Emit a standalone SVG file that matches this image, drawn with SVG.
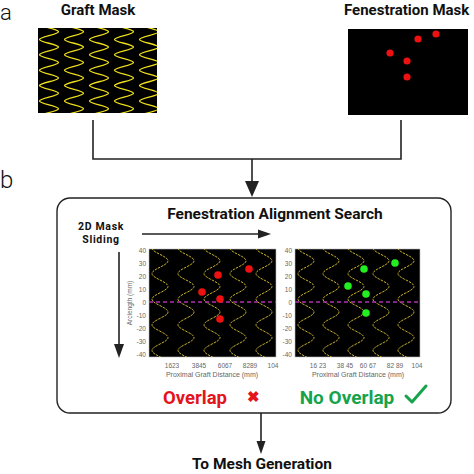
<svg xmlns="http://www.w3.org/2000/svg" width="474" height="474" viewBox="0 0 474 474">
<style>
.t{font-family:Roboto,"Liberation Sans",sans-serif;font-weight:bold;fill:#111}
.lbl{font-family:Roboto,"Open Sans",sans-serif;font-weight:300;fill:#111;font-size:24px}
.ax{font-family:"Liberation Sans",Arial,sans-serif;fill:#666;font-size:6.5px}
.axl{font-family:"Liberation Sans",Arial,sans-serif;fill:#666;font-size:7px}
.ln{stroke:#222;stroke-width:1.6;fill:none}
.gw{stroke:#f2e21a;stroke-width:1.3;fill:none}
.pw{stroke:#c9b22c;stroke-width:1;fill:none;stroke-dasharray:2.5,1}
</style>
<defs>
<path id="gcol" d="M-9.5,24 c0,2.8 19,4.9 19,7.7 s-19,4.9 -19,7.7 s19,4.9 19,7.7 s-19,4.9 -19,7.7 s19,4.9 19,7.7 s-19,4.9 -19,7.7 s19,4.9 19,7.7 s-19,4.9 -19,7.7 s19,4.9 19,7.7 s-19,4.9 -19,7.7 s19,4.9 19,7.7 s-19,4.9 -19,7.7"/>
<path id="pcol" d="M-8,248 c0,4.6 16,8.2 16,12.8 s-16,8.2 -16,12.8 s16,8.2 16,12.8 s-16,8.2 -16,12.8 s16,8.2 16,12.8 s-16,8.2 -16,12.8 s16,8.2 16,12.8 s-16,8.2 -16,12.8 s16,8.2 16,12.8"/>
<clipPath id="cg"><rect x="38" y="28" width="119" height="85"/></clipPath>
<clipPath id="cp1"><rect x="149" y="249" width="127" height="108"/></clipPath>
<clipPath id="cp2"><rect x="295" y="249" width="125" height="108"/></clipPath>
</defs>

<text class="lbl" x="0" y="20" font-size="22" style="font-size:22px">a</text>
<text class="lbl" x="0" y="188">b</text>

<g id="graft-mask">
<text class="t" x="98" y="15" font-size="15" text-anchor="middle">Graft Mask</text>
<rect x="38" y="28" width="119" height="85" fill="#000"/>
<g clip-path="url(#cg)">
<use href="#gcol" class="gw" transform="translate(49,0)"/>
<use href="#gcol" class="gw" transform="translate(74,0)"/>
<use href="#gcol" class="gw" transform="translate(99,0)"/>
<use href="#gcol" class="gw" transform="translate(124,0)"/>
<use href="#gcol" class="gw" transform="translate(149,0)"/>
</g>
</g>

<g id="fenestration-mask">
<text class="t" x="344" y="15" font-size="15">Fenestration Mask</text>
<rect x="348" y="29" width="120" height="86" fill="#000"/>
<g fill="#ee1111">
<circle cx="390" cy="53" r="3.6"/>
<circle cx="407" cy="61" r="3.6"/>
<circle cx="407" cy="77" r="3.6"/>
<circle cx="418" cy="39" r="3.6"/>
<circle cx="436" cy="34" r="3.6"/>
</g>
</g>

<g id="connectors">
<path class="ln" d="M93,120 V159 H401 V120"/>
<path class="ln" d="M252,159 V184"/>
<path d="M245,181 L259,181 L252,197 z" fill="#222"/>
<path class="ln" d="M261,413 V443"/>
<path d="M256.5,441 L265.5,441 L261,454 z" fill="#222"/>
</g>

<g id="alignment-search">
<rect x="57" y="198" width="394" height="215" rx="13" fill="#fff" stroke="#222" stroke-width="1.4"/>
<text class="t" x="275" y="219" font-size="15.5" text-anchor="middle">Fenestration Alignment Search</text>
<text class="t" x="101" y="230" font-size="10.5" letter-spacing="0.7" text-anchor="middle">2D Mask</text>
<text class="t" x="101" y="243" font-size="10.5" letter-spacing="0.7" text-anchor="middle">Sliding</text>
<path class="ln" d="M142,234 H260"/>
<path d="M258,229.5 L271,234 L258,238.5 z" fill="#222"/>
<path class="ln" d="M119,252 V346"/>
<path d="M114,344 L124,344 L119,358 z" fill="#222"/>

<g id="plot-overlap">
<rect x="149" y="249" width="127" height="108" fill="#000" stroke="#bbb" stroke-width="0.6"/>
<g clip-path="url(#cp1)">
<use href="#pcol" class="pw" transform="translate(160,0)"/>
<use href="#pcol" class="pw" transform="translate(186,0)"/>
<use href="#pcol" class="pw" transform="translate(212,0)"/>
<use href="#pcol" class="pw" transform="translate(238,0)"/>
<use href="#pcol" class="pw" transform="translate(264,0)"/>
</g>
<path d="M149,302 H276" stroke="#b030b0" stroke-width="1.3" stroke-dasharray="4,3"/>
<g fill="#ee1111">
<circle cx="249" cy="269" r="3.8"/>
<circle cx="218" cy="275" r="3.8"/>
<circle cx="202" cy="292" r="3.8"/>
<circle cx="220" cy="299" r="3.8"/>
<circle cx="220" cy="319" r="3.8"/>
</g>
<g class="ax" text-anchor="end">
<text x="146" y="253">40</text><text x="146" y="266">30</text><text x="146" y="279">20</text><text x="146" y="292">10</text><text x="146" y="305">0</text><text x="146" y="318">-10</text><text x="146" y="331">-20</text><text x="146" y="344">-30</text><text x="146" y="357">-40</text>
</g>
<text class="ax" x="132" y="303" text-anchor="middle" transform="rotate(-90 132 303)" font-size="7">Arclength (mm)</text>
<g class="ax" text-anchor="middle">
<text x="172" y="368">1623</text><text x="199" y="368">3845</text><text x="225" y="368">6067</text><text x="250" y="368">8289</text><text x="273" y="368">104</text>
</g>
<text class="axl" x="212" y="377" text-anchor="middle">Proximal Graft Distance (mm)</text>
</g>

<g id="plot-no-overlap">
<rect x="295" y="249" width="125" height="108" fill="#000" stroke="#bbb" stroke-width="0.6"/>
<g clip-path="url(#cp2)">
<use href="#pcol" class="pw" transform="translate(306,0)"/>
<use href="#pcol" class="pw" transform="translate(331,0)"/>
<use href="#pcol" class="pw" transform="translate(356,0)"/>
<use href="#pcol" class="pw" transform="translate(381,0)"/>
<use href="#pcol" class="pw" transform="translate(406,0)"/>
</g>
<path d="M295,302 H420" stroke="#b030b0" stroke-width="1.3" stroke-dasharray="4,3"/>
<g fill="#22ee22">
<circle cx="395" cy="263" r="3.8"/>
<circle cx="364" cy="269" r="3.8"/>
<circle cx="348" cy="286" r="3.8"/>
<circle cx="366" cy="294" r="3.8"/>
<circle cx="366" cy="313" r="3.8"/>
</g>
<g class="ax" text-anchor="end">
<text x="292" y="253">40</text><text x="292" y="266">30</text><text x="292" y="279">20</text><text x="292" y="292">10</text><text x="292" y="305">0</text><text x="292" y="318">-10</text><text x="292" y="331">-20</text><text x="292" y="344">-30</text><text x="292" y="357">-40</text>
</g>
<g class="ax" text-anchor="middle">
<text x="318" y="368">16 23</text><text x="345" y="368">38 45</text><text x="368" y="368">60 67</text><text x="395" y="368">82 89</text><text x="417" y="368">104</text>
</g>
<text class="axl" x="358" y="377" text-anchor="middle">Proximal Graft Distance (mm)</text>
</g>

<text class="t" x="195" y="404" font-size="18.5" text-anchor="middle" style="fill:#e3141b">Overlap</text>
<text class="t" x="253" y="402" font-size="15" text-anchor="middle" style="fill:#e3141b">✖</text>
<text class="t" x="347" y="404" font-size="19" text-anchor="middle" style="fill:#16a34a">No Overlap</text>
<path d="M406,396 L412,402 L426,386" stroke="#16a34a" stroke-width="3" fill="none" stroke-linecap="round" stroke-linejoin="round"/>
</g>

<g id="mesh-generation">
<text class="t" x="262" y="469" font-size="15.5" text-anchor="middle">To Mesh Generation</text>
</g>
</svg>
